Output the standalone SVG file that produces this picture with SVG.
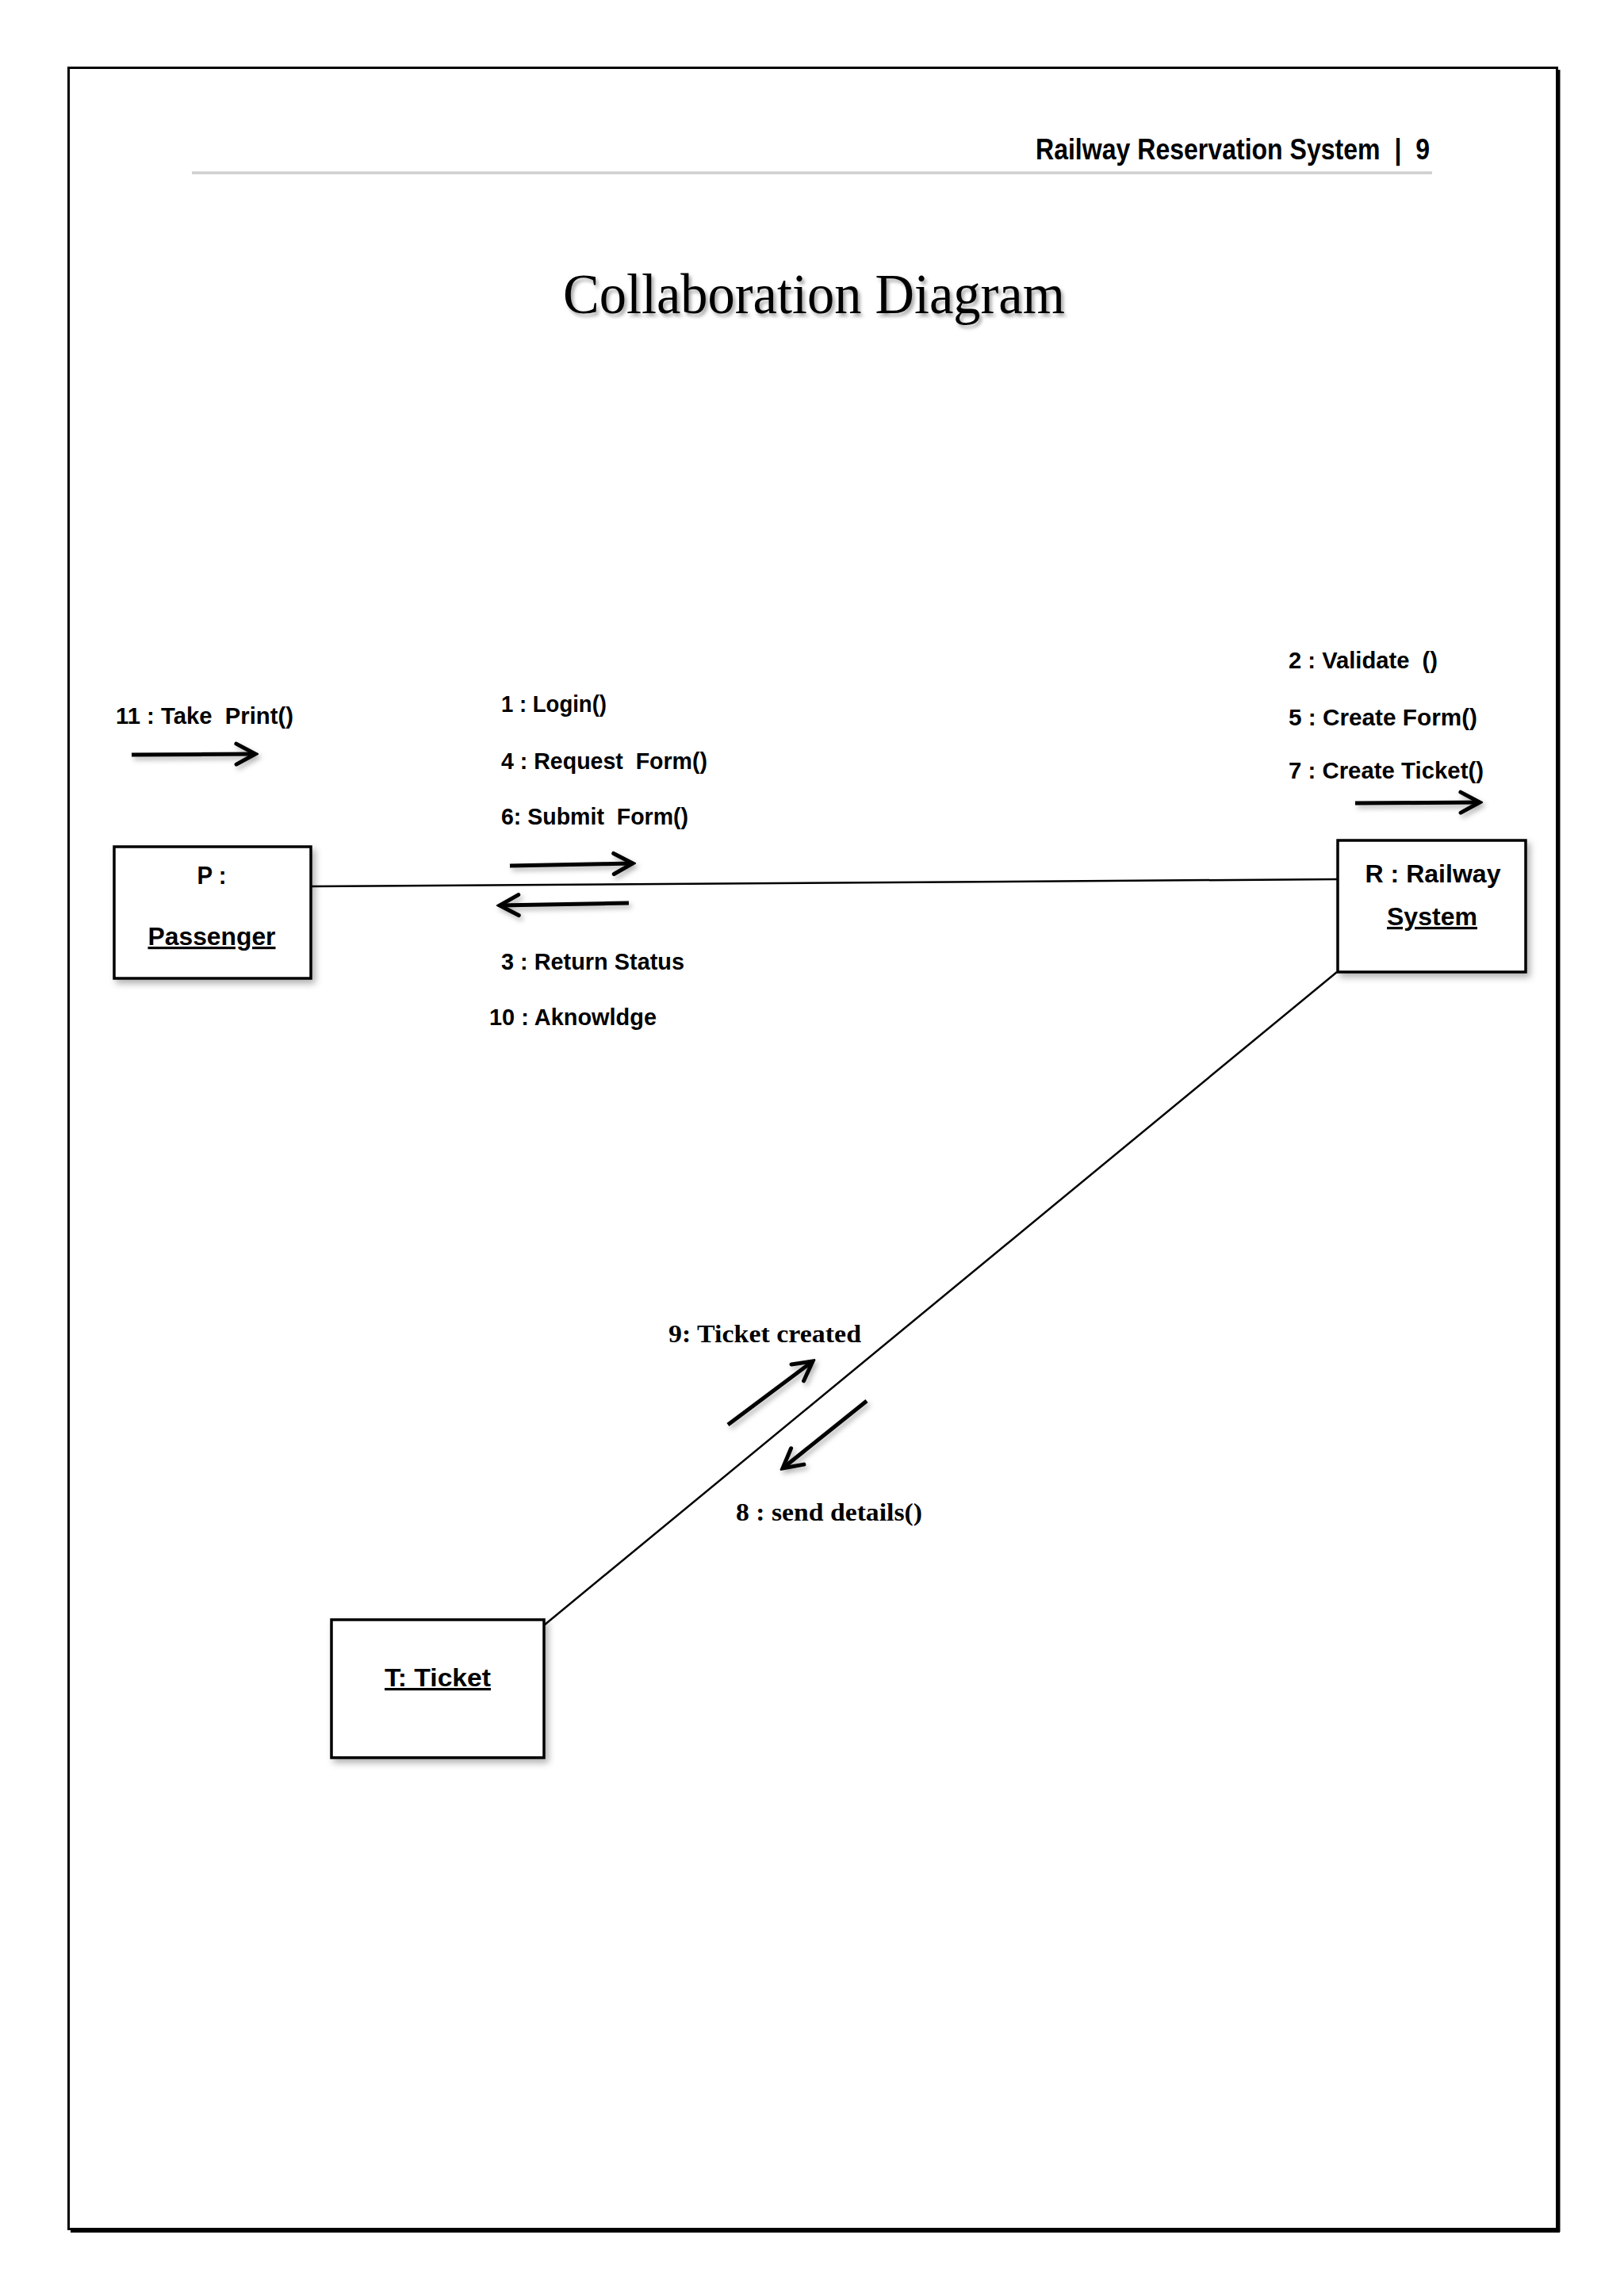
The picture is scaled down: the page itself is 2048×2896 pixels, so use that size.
<svg xmlns="http://www.w3.org/2000/svg" width="2048" height="2896" viewBox="0 0 2048 2896">
  <style>
    .lbl { font-family: "Liberation Sans", Arial, sans-serif; font-weight: bold; font-size: 29px; fill: #000; }
    .node { font-family: "Liberation Sans", Arial, sans-serif; font-weight: bold; font-size: 32px; fill: #000; }
    .serif { font-family: "Liberation Serif", "Times New Roman", serif; font-weight: bold; font-size: 31px; fill: #000; }
    .box { fill: #fff; stroke: #000; stroke-width: 3.5; }
    .link { fill: none; stroke: #000; stroke-width: 2.5; }
    .msg { fill: none; stroke: #000; stroke-width: 5; stroke-linecap: butt; }
  </style>
  <defs>
    <filter id="shadow" x="-20%" y="-20%" width="150%" height="150%">
      <feDropShadow dx="4" dy="5" stdDeviation="4" flood-color="#000" flood-opacity="0.3"/>
    </filter>
    <filter id="tshadow" x="-10%" y="-30%" width="120%" height="170%">
      <feDropShadow dx="3" dy="4" stdDeviation="2" flood-color="#000" flood-opacity="0.35"/>
    </filter>
    <filter id="ashadow" filterUnits="userSpaceOnUse" x="0" y="0" width="2048" height="2896">
      <feDropShadow dx="3" dy="4" stdDeviation="3" flood-color="#000" flood-opacity="0.3"/>
    </filter>
    <marker id="open" markerUnits="userSpaceOnUse" viewBox="0 0 32 32" markerWidth="32" markerHeight="32" refX="28" refY="16" orient="auto">
      <path d="M4,3 L28,16 L4,29" fill="none" stroke="#000" stroke-width="5" stroke-linecap="round" stroke-linejoin="miter"/>
    </marker>
  </defs>

  <rect width="2048" height="2896" fill="#fff"/>

  <g id="page">
    <rect x="86.5" y="85.5" width="1877" height="2726" fill="none" stroke="#000" stroke-width="3"/>
    <line x1="1965.5" y1="88" x2="1965.5" y2="2815" stroke="#000" stroke-width="4"/>
    <line x1="89" y1="2814" x2="1967" y2="2814" stroke="#000" stroke-width="4"/>
  </g>

  <g id="header">
    <text xml:space="preserve" x="1306" y="201" font-family="'Liberation Sans', Arial, sans-serif" font-weight="bold" font-size="36" textLength="497" lengthAdjust="spacingAndGlyphs">Railway Reservation System  |  9</text>
    <line x1="242" y1="218" x2="1806" y2="218" stroke="#cfcfcf" stroke-width="3.5"/>
    <text x="710" y="395" font-family="'Liberation Serif', 'Times New Roman', serif" font-size="71" textLength="633" lengthAdjust="spacingAndGlyphs" filter="url(#tshadow)">Collaboration Diagram</text>
  </g>

  <g id="connectors">
    <line class="link" x1="393" y1="1118" x2="1686" y2="1109"/>
    <line class="link" x1="1686" y1="1226" x2="686" y2="2050"/>
  </g>

  <g id="node-passenger">
    <rect class="box" x="144" y="1068" width="248" height="166" filter="url(#shadow)"/>
    <text class="node" x="267" y="1115" text-anchor="middle" textLength="37" lengthAdjust="spacingAndGlyphs">P :</text>
    <text class="node" x="267" y="1192" text-anchor="middle" text-decoration="underline" textLength="161" lengthAdjust="spacingAndGlyphs">Passenger</text>
  </g>

  <g id="node-railway">
    <rect class="box" x="1687" y="1060" width="237" height="166" filter="url(#shadow)"/>
    <text class="node" x="1807" y="1113" text-anchor="middle" textLength="171" lengthAdjust="spacingAndGlyphs">R : Railway</text>
    <text class="node" x="1806" y="1167" text-anchor="middle" text-decoration="underline" textLength="114" lengthAdjust="spacingAndGlyphs">System</text>
  </g>

  <g id="node-ticket">
    <rect class="box" x="418" y="2043" width="268" height="174" filter="url(#shadow)"/>
    <text class="node" x="552" y="2127" text-anchor="middle" text-decoration="underline" textLength="134" lengthAdjust="spacingAndGlyphs">T: Ticket</text>
  </g>

  <g id="messages">
    <text xml:space="preserve" class="lbl" x="146" y="913" textLength="224" lengthAdjust="spacingAndGlyphs">11 : Take  Print()</text>
    <line class="msg" x1="166" y1="952" x2="322" y2="951" marker-end="url(#open)" filter="url(#ashadow)"/>

    <text class="lbl" x="632" y="898" textLength="133" lengthAdjust="spacingAndGlyphs">1 : Login()</text>
    <text xml:space="preserve" class="lbl" x="632" y="970" textLength="260" lengthAdjust="spacingAndGlyphs">4 : Request  Form()</text>
    <text xml:space="preserve" class="lbl" x="632" y="1040" textLength="236" lengthAdjust="spacingAndGlyphs">6: Submit  Form()</text>
    <line class="msg" x1="643" y1="1092" x2="798" y2="1089" marker-end="url(#open)" filter="url(#ashadow)"/>
    <line class="msg" x1="793" y1="1139" x2="630" y2="1142" marker-end="url(#open)" filter="url(#ashadow)"/>
    <text class="lbl" x="632" y="1223" textLength="231" lengthAdjust="spacingAndGlyphs">3 : Return Status</text>
    <text class="lbl" x="617" y="1293" textLength="211" lengthAdjust="spacingAndGlyphs">10 : Aknowldge</text>

    <text xml:space="preserve" class="lbl" x="1625" y="843" textLength="188" lengthAdjust="spacingAndGlyphs">2 : Validate  ()</text>
    <text class="lbl" x="1625" y="915" textLength="238" lengthAdjust="spacingAndGlyphs">5 : Create Form()</text>
    <text class="lbl" x="1625" y="982" textLength="246" lengthAdjust="spacingAndGlyphs">7 : Create Ticket()</text>
    <line class="msg" x1="1709" y1="1013" x2="1866" y2="1012" marker-end="url(#open)" filter="url(#ashadow)"/>

    <text class="serif" x="843" y="1693" textLength="243" lengthAdjust="spacingAndGlyphs">9: Ticket created</text>
    <line class="msg" x1="918" y1="1797" x2="1025" y2="1717" marker-end="url(#open)" filter="url(#ashadow)"/>
    <line class="msg" x1="1093" y1="1767" x2="987" y2="1852" marker-end="url(#open)" filter="url(#ashadow)"/>
    <text class="serif" x="928" y="1918" textLength="235" lengthAdjust="spacingAndGlyphs">8 : send details()</text>
  </g>
</svg>
